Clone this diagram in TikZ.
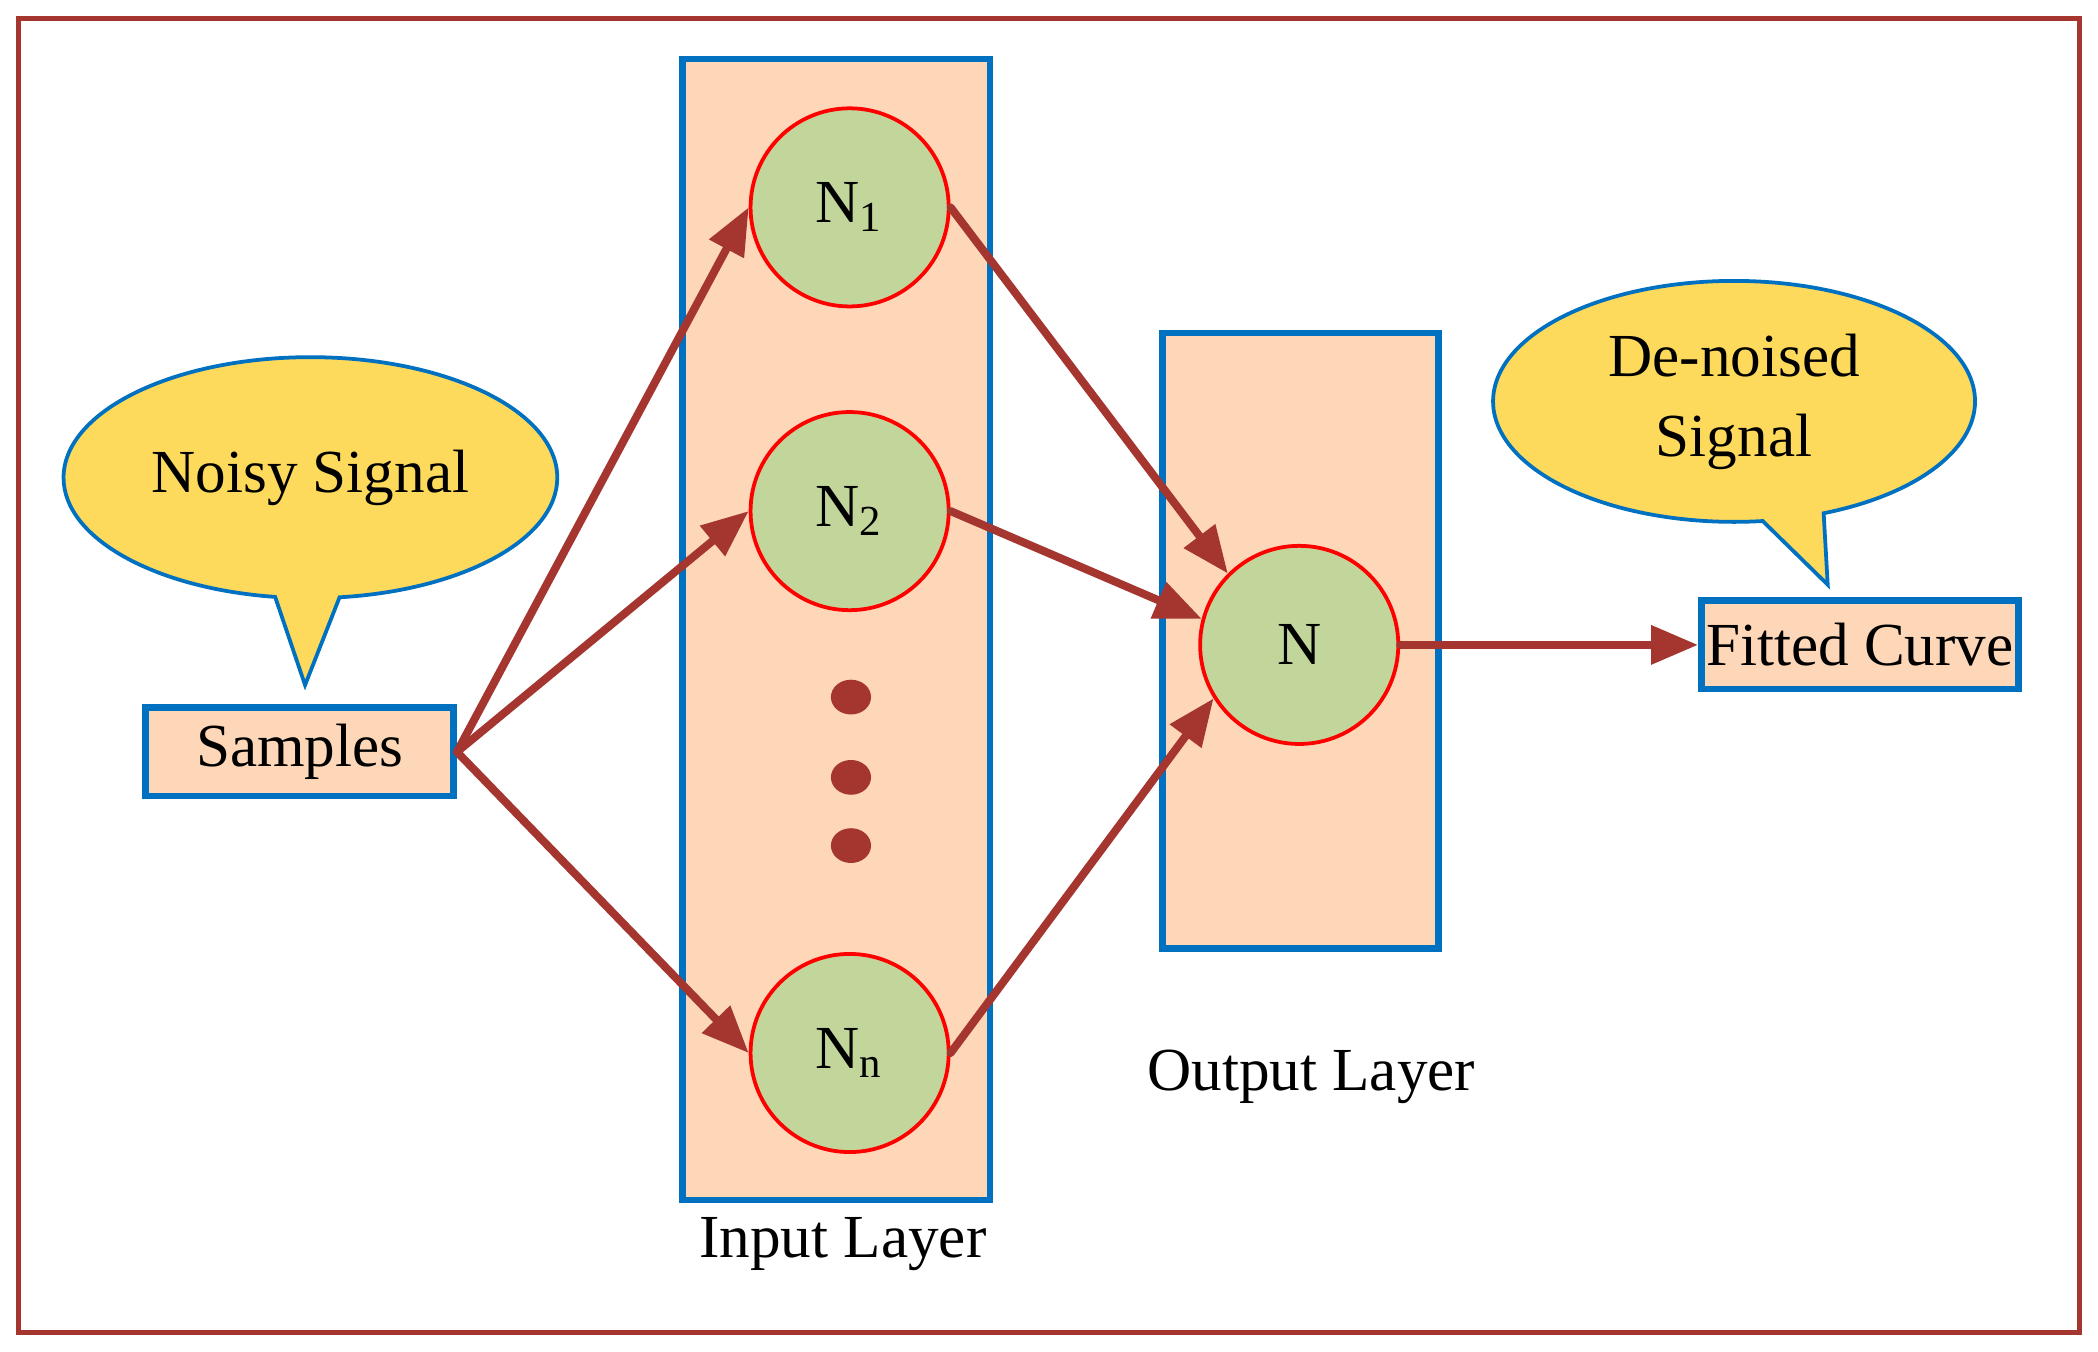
\documentclass[tikz,border=0pt]{standalone}
\usepackage{fontspec}
\setmainfont{Liberation Serif}
\usetikzlibrary{arrows.meta,shapes.geometric,shapes.callouts}
\definecolor{frame}{HTML}{A5352F}
\definecolor{layer}{HTML}{FDD7B8}
\definecolor{edgeblue}{HTML}{0070C0}
\definecolor{neuron}{HTML}{C2D69B}
\definecolor{bubble}{HTML}{FDD95C}
\tikzset{
  layerbox/.style={draw=edgeblue,fill=layer,line width=1.4pt},
  io/.style={draw=edgeblue,fill=layer,line width=1.4pt,minimum width=2.3cm,minimum height=0.66cm,inner sep=1pt},
  unit/.style={circle,draw=red,fill=neuron,line width=0.8pt,minimum size=1.48cm},
  talk/.style={ellipse callout,draw=edgeblue,fill=bubble,line width=0.8pt,minimum width=3.6cm,minimum height=1.8cm,align=center},
  link/.style={draw=frame,line width=1.7pt,line cap=round,-{Triangle[length=10pt,width=8pt]}},
}
\begin{document}
\begin{tikzpicture}[x=0.01cm,y=-0.01cm,font=\fontsize{13}{17}\selectfont]
        \useasboundingbox (0,0) rectangle (1568,1010);
        \draw[frame,line width=1.1pt] (14,14) rectangle (1554,996);
        \draw[layerbox] (510,44) rectangle (740,897);
        \draw[layerbox] (869,249) rectangle (1075,709);
        \node (input) at (630,930) {Input Layer};
        \node (output) at (980,805) {Output Layer};

        \node[unit] (n1) at (635,155) {N\textsubscript{1}};
        \node[unit] (n2) at (635,382) {N\textsubscript{2}};
        \node[unit] (nn) at (635,787) {N\textsubscript{n}};
        \node[unit] (n) at (971,482) {N};
        \foreach \y in {521,581,632}
          \fill[frame] (636,\y) ellipse (15 and 13);

        \node[io] (samples) at (224,562) {Samples};
        \node[io] (fitted) at (1390,482) {Fitted Curve};
        \node[talk,callout absolute pointer={(228,512)}] (noisy) at (232,357) {Noisy Signal};
        \node[talk,callout absolute pointer={(1366,437)}] (denoised) at (1296,300) {De-noised\\Signal};

        \draw[link] (samples.east) -- (n1.west);
        \draw[link] (samples.east) -- (n2.west);
        \draw[link] (samples.east) -- (nn.west);
        \draw[link] (n1.east) -- (n.135);
        \draw[link] (n2.east) -- (n.165);
        \draw[link] (nn.east) -- (n.212);
        \draw[link] (n.east) -- (fitted.west);
\end{tikzpicture}
\end{document}
